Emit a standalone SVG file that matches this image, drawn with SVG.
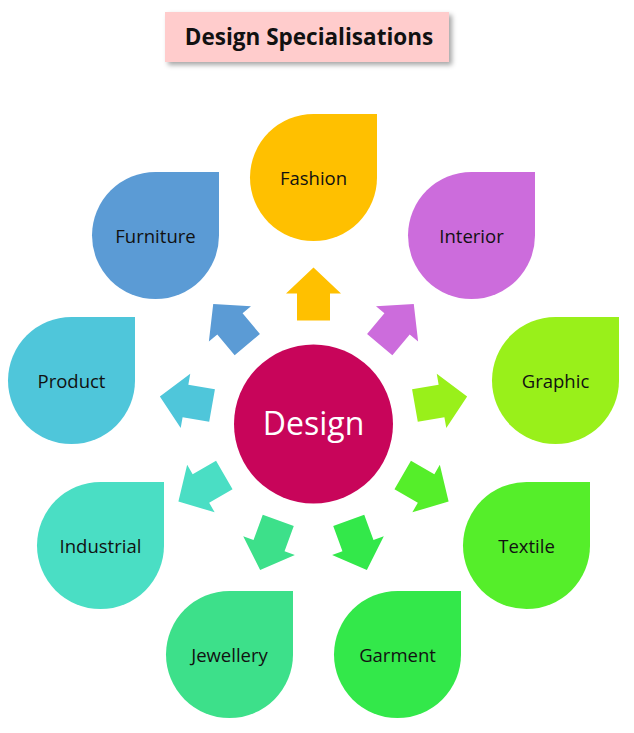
<svg xmlns="http://www.w3.org/2000/svg" width="634" height="733" viewBox="0 0 634 733">
<defs>
<style>
.lbl{font-family:"Open Sans","Noto Sans","Liberation Sans",sans-serif;font-size:18.5px;fill:#111;text-anchor:middle;dominant-baseline:central}
.title{font-family:"Open Sans","Noto Sans","Liberation Sans",sans-serif;font-size:22.5px;font-weight:bold;fill:#111;text-anchor:middle;dominant-baseline:central}
.core{font-family:"Open Sans","Noto Sans","Liberation Sans",sans-serif;font-size:32px;fill:#fff;text-anchor:middle;dominant-baseline:central}
</style>
<path id="drop" d="M63.5,0 H127 V63.5 A63.5,63.5 0 1 1 63.5,0 Z"/>
<path id="arrow" d="M0,-156 L27.5,-130 L16.5,-130 L16.5,-103 L-16.5,-103 L-16.5,-130 L-27.5,-130 Z"/>
<filter id="sh" x="-10%" y="-20%" width="130%" height="160%">
<feGaussianBlur in="SourceAlpha" stdDeviation="2.5"/>
<feOffset dx="3" dy="3" result="b"/>
<feFlood flood-color="#000" flood-opacity="0.35"/>
<feComposite in2="b" operator="in"/>
<feMerge><feMergeNode/><feMergeNode in="SourceGraphic"/></feMerge>
</filter>
</defs>
<rect width="634" height="733" fill="#fff"/>
<g id="title">
<rect x="165" y="12" width="284" height="50" fill="#FFCCCC" filter="url(#sh)"/>
<text class="title" x="309" y="36.5">Design Specialisations</text>
</g>
<g id="connectors">
<use href="#arrow" transform="translate(313.5,423.5) rotate(0)" fill="#FFC000"/>
<use href="#arrow" transform="translate(313.5,423.5) rotate(40)" fill="#CC6CDC"/>
<use href="#arrow" transform="translate(313.5,423.5) rotate(80)" fill="#99F01A"/>
<use href="#arrow" transform="translate(313.5,423.5) rotate(120)" fill="#55EE2A"/>
<use href="#arrow" transform="translate(313.5,423.5) rotate(160)" fill="#33E84A"/>
<use href="#arrow" transform="translate(313.5,423.5) rotate(200)" fill="#3DE08A"/>
<use href="#arrow" transform="translate(313.5,423.5) rotate(240)" fill="#4ADEC4"/>
<use href="#arrow" transform="translate(313.5,423.5) rotate(280)" fill="#4FC6DA"/>
<use href="#arrow" transform="translate(313.5,423.5) rotate(320)" fill="#5B9BD5"/>
</g>
<g id="design">
<circle cx="313.5" cy="424" r="79.5" fill="#C8055A"/>
<text class="core" x="313.5" y="422">Design</text>
</g>
<g id="fashion">
<use href="#drop" x="250" y="114" fill="#FFC000"/>
<text class="lbl" x="313.5" y="177.5">Fashion</text>
</g>
<g id="interior">
<use href="#drop" x="408" y="172" fill="#CC6CDC"/>
<text class="lbl" x="471.5" y="235.5">Interior</text>
</g>
<g id="graphic">
<use href="#drop" x="492" y="317" fill="#99F01A"/>
<text class="lbl" x="555.5" y="380.5">Graphic</text>
</g>
<g id="textile">
<use href="#drop" x="463" y="482" fill="#55EE2A"/>
<text class="lbl" x="526.5" y="545.5">Textile</text>
</g>
<g id="garment">
<use href="#drop" x="334" y="591" fill="#33E84A"/>
<text class="lbl" x="397.5" y="654.5">Garment</text>
</g>
<g id="jewellery">
<use href="#drop" x="166" y="591" fill="#3DE08A"/>
<text class="lbl" x="229.5" y="654.5">Jewellery</text>
</g>
<g id="industrial">
<use href="#drop" x="37" y="482" fill="#4ADEC4"/>
<text class="lbl" x="100.5" y="545.5">Industrial</text>
</g>
<g id="product">
<use href="#drop" x="8" y="317" fill="#4FC6DA"/>
<text class="lbl" x="71.5" y="380.5">Product</text>
</g>
<g id="furniture">
<use href="#drop" x="92" y="172" fill="#5B9BD5"/>
<text class="lbl" x="155.5" y="235.5">Furniture</text>
</g>
</svg>
